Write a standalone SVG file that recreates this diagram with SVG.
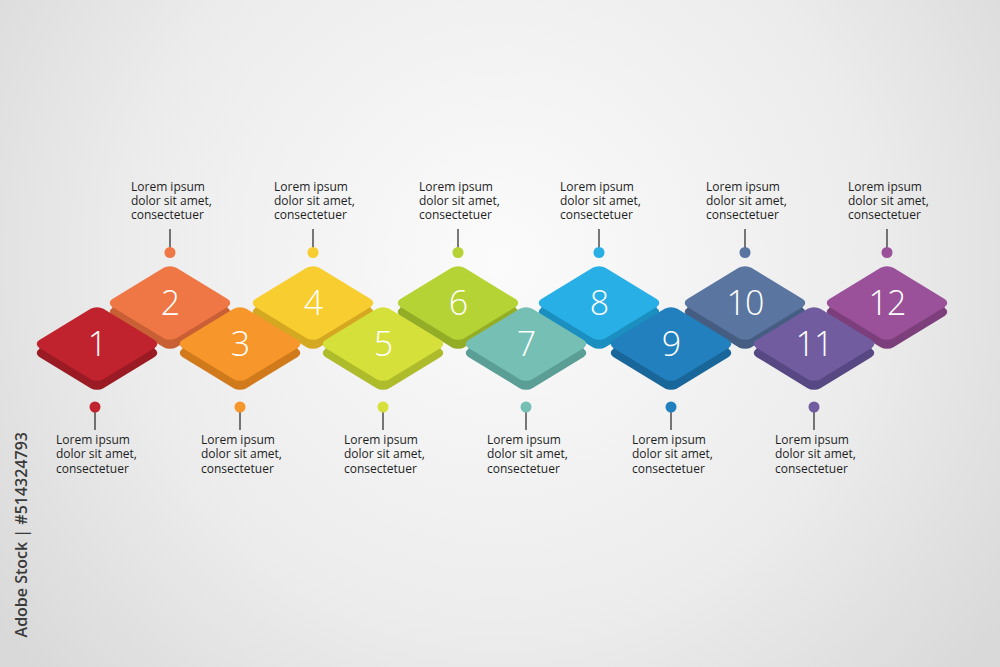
<svg xmlns="http://www.w3.org/2000/svg" xmlns:xlink="http://www.w3.org/1999/xlink" width="1000" height="667" viewBox="0 0 1000 667">
<defs>
<radialGradient id="bg" cx="500" cy="260" r="620" gradientUnits="userSpaceOnUse">
<stop offset="0" stop-color="#fbfbfb"/>
<stop offset="0.6" stop-color="#ececec"/>
<stop offset="1" stop-color="#d9d9d9"/>
</radialGradient>
<rect id="face" x="-45.25" y="-45.25" width="90.5" height="90.5" rx="9" transform="scale(1,0.61) rotate(45)"/>
<g id="side"><use xlink:href="#face" transform="translate(0,9)"/><rect x="-57.5" y="0" width="115" height="9"/></g>
</defs>
<style>
.num{font-family:"Open Sans","Liberation Sans",sans-serif;font-size:34px;font-weight:300;fill:#fff;text-anchor:middle;letter-spacing:-1px}
.lbl{font-family:"Open Sans","Liberation Sans",sans-serif;font-size:12px;fill:#1e1e1e}
.stem{stroke:#222;stroke-width:1.2}
.wm{font-family:"Open Sans","Liberation Sans",sans-serif;font-size:16px;font-weight:600;fill:#3a3a3a}
</style>
<rect width="1000" height="667" fill="url(#bg)"/>
<text class="wm" transform="translate(27,432) rotate(-90)" text-anchor="end">Adobe Stock | #514324793</text>

<g id="connectors">
<line class="stem" x1="170" y1="229" x2="170" y2="248"/>
<line class="stem" x1="313" y1="229" x2="313" y2="248"/>
<line class="stem" x1="458" y1="229" x2="458" y2="248"/>
<line class="stem" x1="599" y1="229" x2="599" y2="248"/>
<line class="stem" x1="745" y1="229" x2="745" y2="248"/>
<line class="stem" x1="887" y1="229" x2="887" y2="248"/>
<line class="stem" x1="95" y1="411" x2="95" y2="430"/>
<line class="stem" x1="240" y1="411" x2="240" y2="430"/>
<line class="stem" x1="383" y1="411" x2="383" y2="430"/>
<line class="stem" x1="526" y1="411" x2="526" y2="430"/>
<line class="stem" x1="671" y1="411" x2="671" y2="430"/>
<line class="stem" x1="814" y1="411" x2="814" y2="430"/>
</g>

<g id="node2"><g transform="translate(170,303)"><use xlink:href="#side" fill="#c85f35"/><use xlink:href="#face" fill="#ef7745"/><text class="num" y="12">2</text></g>
<circle cx="170" cy="252.5" r="5.5" fill="#ef7745"/><text class="lbl" x="131" y="190.5">Lorem ipsum<tspan x="131" dy="14.3">dolor sit amet,</tspan><tspan x="131" dy="14.3">consectetuer</tspan></text></g>
<g id="node4"><g transform="translate(313,303)"><use xlink:href="#side" fill="#d4a820"/><use xlink:href="#face" fill="#f8cd2f"/><text class="num" y="12">4</text></g>
<circle cx="313" cy="252.5" r="5.5" fill="#f8cd2f"/><text class="lbl" x="274" y="190.5">Lorem ipsum<tspan x="274" dy="14.3">dolor sit amet,</tspan><tspan x="274" dy="14.3">consectetuer</tspan></text></g>
<g id="node6"><g transform="translate(458,303)"><use xlink:href="#side" fill="#93ad27"/><use xlink:href="#face" fill="#b5d334"/><text class="num" y="12">6</text></g>
<circle cx="458" cy="252.5" r="5.5" fill="#b5d334"/><text class="lbl" x="419" y="190.5">Lorem ipsum<tspan x="419" dy="14.3">dolor sit amet,</tspan><tspan x="419" dy="14.3">consectetuer</tspan></text></g>
<g id="node8"><g transform="translate(599,303)"><use xlink:href="#side" fill="#1a8fc0"/><use xlink:href="#face" fill="#27afe6"/><text class="num" y="12">8</text></g>
<circle cx="599" cy="252.5" r="5.5" fill="#27afe6"/><text class="lbl" x="560" y="190.5">Lorem ipsum<tspan x="560" dy="14.3">dolor sit amet,</tspan><tspan x="560" dy="14.3">consectetuer</tspan></text></g>
<g id="node10"><g transform="translate(745,303)"><use xlink:href="#side" fill="#465d82"/><use xlink:href="#face" fill="#5a75a0"/><text class="num" y="12">10</text></g>
<circle cx="745" cy="252.5" r="5.5" fill="#5a75a0"/><text class="lbl" x="706" y="190.5">Lorem ipsum<tspan x="706" dy="14.3">dolor sit amet,</tspan><tspan x="706" dy="14.3">consectetuer</tspan></text></g>
<g id="node12"><g transform="translate(887,303)"><use xlink:href="#side" fill="#7c3f7b"/><use xlink:href="#face" fill="#9a5199"/><text class="num" y="12">12</text></g>
<circle cx="887" cy="252.5" r="5.5" fill="#9a5199"/><text class="lbl" x="848" y="190.5">Lorem ipsum<tspan x="848" dy="14.3">dolor sit amet,</tspan><tspan x="848" dy="14.3">consectetuer</tspan></text></g>

<g id="node1"><g transform="translate(97,344)"><use xlink:href="#side" fill="#9a1b24"/><use xlink:href="#face" fill="#c0222e"/><text class="num" y="12">1</text></g>
<circle cx="95" cy="407" r="5.5" fill="#c0222e"/><text class="lbl" x="56" y="444">Lorem ipsum<tspan x="56" dy="14.3">dolor sit amet,</tspan><tspan x="56" dy="14.3">consectetuer</tspan></text></g>
<g id="node3"><g transform="translate(240,344)"><use xlink:href="#side" fill="#d07a1c"/><use xlink:href="#face" fill="#f7962a"/><text class="num" y="12">3</text></g>
<circle cx="240" cy="407" r="5.5" fill="#f7962a"/><text class="lbl" x="201" y="444">Lorem ipsum<tspan x="201" dy="14.3">dolor sit amet,</tspan><tspan x="201" dy="14.3">consectetuer</tspan></text></g>
<g id="node5"><g transform="translate(383,344)"><use xlink:href="#side" fill="#aebb2a"/><use xlink:href="#face" fill="#d6e03a"/><text class="num" y="12">5</text></g>
<circle cx="383" cy="407" r="5.5" fill="#d6e03a"/><text class="lbl" x="344" y="444">Lorem ipsum<tspan x="344" dy="14.3">dolor sit amet,</tspan><tspan x="344" dy="14.3">consectetuer</tspan></text></g>
<g id="node7"><g transform="translate(526,344)"><use xlink:href="#side" fill="#5a9e96"/><use xlink:href="#face" fill="#76bfb5"/><text class="num" y="12">7</text></g>
<circle cx="526" cy="407" r="5.5" fill="#76bfb5"/><text class="lbl" x="487" y="444">Lorem ipsum<tspan x="487" dy="14.3">dolor sit amet,</tspan><tspan x="487" dy="14.3">consectetuer</tspan></text></g>
<g id="node9"><g transform="translate(671,344)"><use xlink:href="#side" fill="#19679a"/><use xlink:href="#face" fill="#2180bd"/><text class="num" y="12">9</text></g>
<circle cx="671" cy="407" r="5.5" fill="#2180bd"/><text class="lbl" x="632" y="444">Lorem ipsum<tspan x="632" dy="14.3">dolor sit amet,</tspan><tspan x="632" dy="14.3">consectetuer</tspan></text></g>
<g id="node11"><g transform="translate(814,344)"><use xlink:href="#side" fill="#574782"/><use xlink:href="#face" fill="#705c9f"/><text class="num" y="12">11</text></g>
<circle cx="814" cy="407" r="5.5" fill="#705c9f"/><text class="lbl" x="775" y="444">Lorem ipsum<tspan x="775" dy="14.3">dolor sit amet,</tspan><tspan x="775" dy="14.3">consectetuer</tspan></text></g>
</svg>
